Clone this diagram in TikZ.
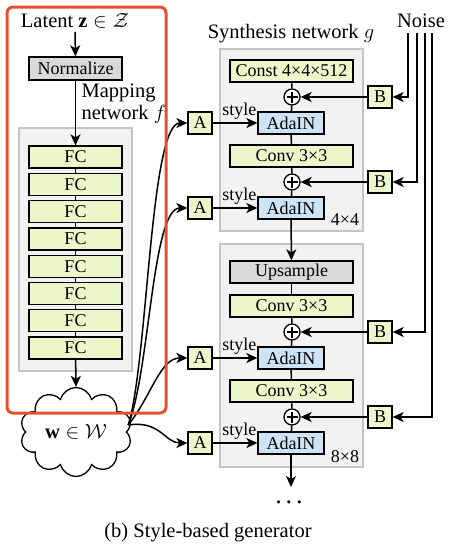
\RequirePackage{fix-cm}
\documentclass[tikz,border=0pt]{standalone}
\usepackage{amsmath,amssymb}
\usepackage{fontspec}
\setmainfont{Liberation Serif}
\usetikzlibrary{arrows.meta,positioning,calc,shapes.symbols}
\definecolor{fcgreen}{HTML}{EDF6CA}
\definecolor{adablue}{HTML}{CDE4F7}
\definecolor{opgray}{HTML}{D9D9D9}
\definecolor{panelfill}{HTML}{F2F2F2}
\definecolor{panelline}{HTML}{C4C4C4}
\definecolor{frame}{HTML}{E8502B}
\newcommand{\boxfont}{\fontsize{18}{20}\selectfont}
\newcommand{\labelfont}{\fontsize{20.5}{22}\selectfont}
\tikzset{
  layer/.style={draw,line width=1.3pt,inner sep=0pt,minimum height=22pt,font=\boxfont},
  widebox/.style={layer,fill=fcgreen,minimum width=123pt},
  fcbox/.style={layer,fill=fcgreen,minimum width=93pt},
  adabox/.style={layer,fill=adablue,minimum width=66pt},
  smallbox/.style={layer,fill=fcgreen,minimum width=24pt},
  addop/.style={circle,draw,line width=1.3pt,fill=white,minimum size=16pt,inner sep=0pt,
    path picture={\draw[line width=1.2pt] (path picture bounding box.center) ++(-5.5pt,0) -- ++(11pt,0)
      (path picture bounding box.center) ++(0,-5.5pt) -- ++(0,11pt);}},
  panel/.style={draw=panelline,fill=panelfill,line width=1.1pt},
  arr/.style={-{Stealth[length=11pt,width=10pt,inset=3pt]},line width=1.5pt},
  link/.style={line width=1.5pt}
}
\begin{document}
\begin{tikzpicture}[x=1pt,y=-1pt]
  \useasboundingbox (0,0) rectangle (474,560);
  % panels
  \draw[panel] (19,128) rectangle (132,371);
  \draw[panel] (220,49) rectangle (363,231);
  \draw[panel] (220,244) rectangle (363,467);
  % mapping network
  \node[font=\labelfont] (latent) at (75,21) {Latent $\mathbf{z}\in\mathcal{Z}$};
  \node[layer,fill=opgray,minimum width=93pt,minimum height=23pt] (norm) at (75.5,68.5) {Normalize};
  \node[font=\labelfont,align=left,anchor=west] (mapname) at (78,104) {Mapping\\network $f$};
  \node[fcbox] (fc1) at (75.5,157) {FC};
  \node[fcbox] (fc2) at (75.5,184.3) {FC};
  \node[fcbox] (fc3) at (75.5,211.6) {FC};
  \node[fcbox] (fc4) at (75.5,238.9) {FC};
  \node[fcbox] (fc5) at (75.5,266.2) {FC};
  \node[fcbox] (fc6) at (75.5,293.5) {FC};
  \node[fcbox] (fc7) at (75.5,320.8) {FC};
  \node[fcbox] (fc8) at (75.5,348) {FC};
  \node[cloud,draw,line width=1.3pt,cloud puffs=10,aspect=1.26,minimum width=112pt,minimum height=89pt,
    inner sep=0pt,font=\labelfont] (wvec) at (76,432) {$\mathbf{w}\in\mathcal{W}$};
  \coordinate (wout) at ($(wvec.east)+(1,-7)$);
  \draw[arr] (latent) -- (norm);
  \draw[arr] (norm) -- (fc1);
  \draw[link] (fc1) -- (fc2);
  \draw[link] (fc2) -- (fc3);
  \draw[link] (fc3) -- (fc4);
  \draw[link] (fc4) -- (fc5);
  \draw[link] (fc5) -- (fc6);
  \draw[link] (fc6) -- (fc7);
  \draw[link] (fc7) -- (fc8);
  \draw[arr] (fc8) -- (wvec.north);
  % synthesis network, 4x4
  \node[font=\labelfont] (synname) at (291,34) {Synthesis network $g$};
  \node[widebox] (const) at (291.5,71) {Const 4×4×512};
  \node[addop] (p1) at (292,97) {};
  \node[adabox] (ada1) at (291,123) {AdaIN};
  \node[widebox] (conv1) at (291.5,156) {Conv 3×3};
  \node[addop] (p2) at (292,182) {};
  \node[adabox] (ada2) at (291,208) {AdaIN};
  \node[font=\boxfont] (res1) at (345,220) {4×4};
  % synthesis network, 8x8
  \node[layer,fill=opgray,minimum width=123pt] (up) at (291.5,272) {Upsample};
  \node[widebox] (conv2) at (291.5,306) {Conv 3×3};
  \node[addop] (p3) at (292,332) {};
  \node[adabox] (ada3) at (291,358) {AdaIN};
  \node[widebox] (conv3) at (291.5,391) {Conv 3×3};
  \node[addop] (p4) at (292,417) {};
  \node[adabox] (ada4) at (291,443) {AdaIN};
  \node[font=\boxfont] (res2) at (345,457) {8×8};
  \coordinate (outend) at (291,487);
  \node[font=\labelfont] (dots) at (291,503) {$\boldsymbol{\cdots}$};
  \draw[link] (const) -- (p1);
  \draw[link] (p1) -- (ada1);
  \draw[link] (ada1) -- (conv1);
  \draw[link] (conv1) -- (p2);
  \draw[link] (p2) -- (ada2);
  \draw[arr] (ada2) -- (up);
  \draw[link] (up) -- (conv2);
  \draw[link] (conv2) -- (p3);
  \draw[link] (p3) -- (ada3);
  \draw[link] (ada3) -- (conv3);
  \draw[link] (conv3) -- (p4);
  \draw[link] (p4) -- (ada4);
  \draw[arr] (ada4) -- (outend);
  % styles A
  \node[smallbox] (a1) at (200,123) {A};
  \node[smallbox] (a2) at (200,208) {A};
  \node[smallbox] (a3) at (200,358) {A};
  \node[smallbox] (a4) at (200,443) {A};
  \draw[arr] (a1) -- node[above,pos=0.6,font=\boxfont] {style} (ada1);
  \draw[arr] (a2) -- node[above,pos=0.6,font=\boxfont] {style} (ada2);
  \draw[arr] (a3) -- node[above,pos=0.6,font=\boxfont] {style} (ada3);
  \draw[arr] (a4) -- node[above,pos=0.6,font=\boxfont] {style} (ada4);
  \draw[arr] (wout) .. controls (148,360) and (150,123) .. (a1.west);
  \draw[arr] (wout) .. controls (150,370) and (152,208) .. (a2.west);
  \draw[arr] (wout) .. controls (152,395) and (160,358) .. (a3.west);
  \draw[arr] (wout) .. controls (160,420) and (165,443) .. (a4.west);
  % noise B
  \node[font=\labelfont] (noise) at (421,21) {Noise};
  \node[smallbox] (b1) at (380,97) {B};
  \node[smallbox] (b2) at (380,182) {B};
  \node[smallbox] (b3) at (380,332) {B};
  \node[smallbox] (b4) at (380,417) {B};
  \coordinate (n1) at (408,33);
  \coordinate (n2) at (417,33);
  \coordinate (n3) at (425,33);
  \coordinate (n4) at (432,33);
  \draw[arr] (n1) |- (b1.east);
  \draw[arr] (n2) |- (b2.east);
  \draw[arr] (n3) |- (b3.east);
  \draw[arr] (n4) |- (b4.east);
  \draw[arr] (b1) -- (p1);
  \draw[arr] (b2) -- (p2);
  \draw[arr] (b3) -- (p3);
  \draw[arr] (b4) -- (p4);
  % frame round the mapping network
  \draw[frame,line width=3pt,rounded corners=6pt] (7,7) rectangle (166,413);
  \node[font=\labelfont] (caption) at (208,533) {(b) Style-based generator};
\end{tikzpicture}
\end{document}
